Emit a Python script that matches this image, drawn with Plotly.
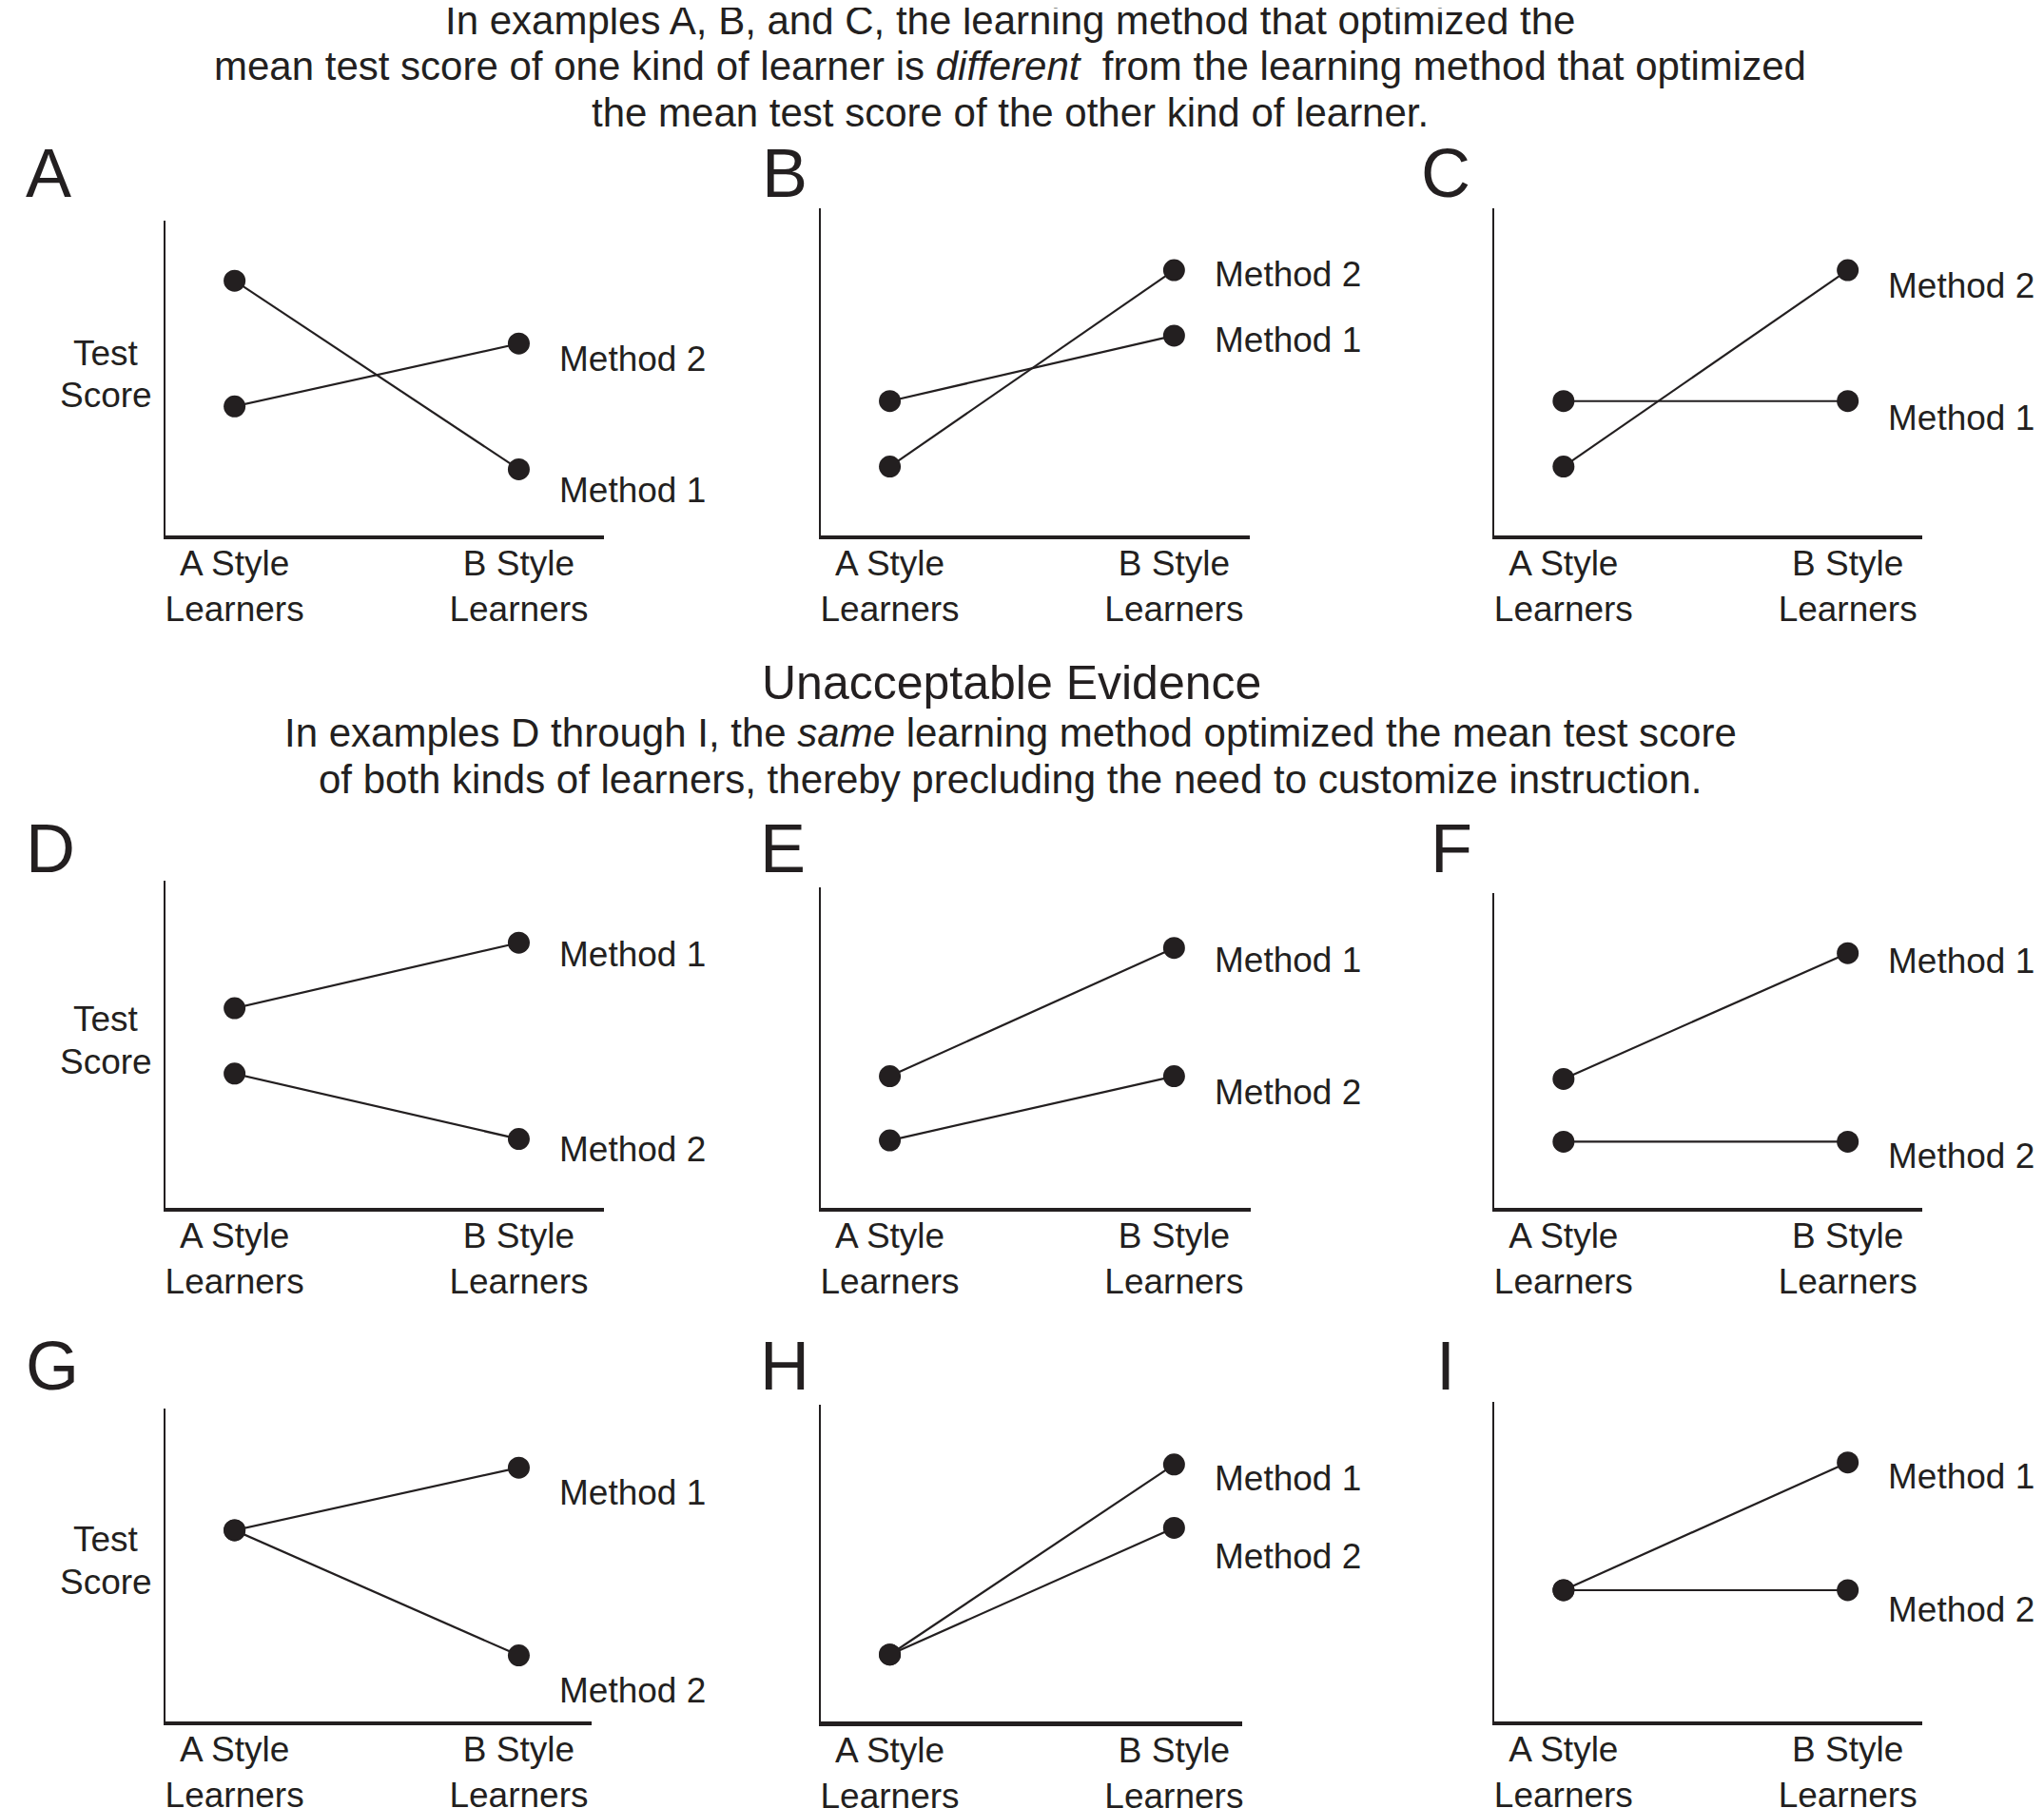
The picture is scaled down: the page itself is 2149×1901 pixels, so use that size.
import plotly.graph_objects as go

INK = '#231f20'
FONT = 'Liberation Sans, Arial, sans-serif'

# size of the reference as it was measured, and of the output page
REF_W, REF_H = 1552, 1387
FIG_W, FIG_H = 2149, 1901
SX, SY = FIG_W / REF_W, FIG_H / REF_H

# data
panel_names = ['A', 'B', 'C', 'D', 'E', 'F', 'G', 'H', 'I']
learner_groups = ['A Style<br>Learners', 'B Style<br>Learners']
method_names = ['Method 1', 'Method 2']
# mean test score (0-10 scale) for [A style, B style] learners
method1_scores = [[8.1, 2.1], [4.1, 6.1], [4.1, 4.1],
                  [6.1, 8.1], [4.1, 8.1], [4.1, 8.1],
                  [6.1, 8.1], [2.1, 8.1], [4.1, 8.1]]
method2_scores = [[4.1, 6.1], [2.1, 8.1], [2.1, 8.1],
                  [4.1, 2.1], [2.1, 4.1], [2.1, 2.1],
                  [6.1, 2.1], [2.1, 6.1], [4.1, 4.1]]

top_lines = ['In examples A, B, and C, the learning method that optimized the',
             'mean test score of one kind of learner is <i>different</i>  from the learning method that optimized',
             'the mean test score of the other kind of learner.']
mid_heading = 'Unacceptable Evidence'
mid_lines = ['In examples D through I, the <i>same</i> learning method optimized the mean test score',
             'of both kinds of learners, thereby precluding the need to customize instruction.']
y_title = ['Test', 'Score']

# layout (measured in reference pixels): left line x, right end x, top y, bottom y
frames = [(120, 453, 165, 408), (618, 944, 155, 408), (1130, 1455, 155, 408),
          (120, 453, 675, 928), (618, 945, 680, 928), (1130, 1455, 685, 928),
          (120, 444, 1083, 1325), (618, 938, 1080, 1325), (1130, 1455, 1078, 1325)]
letter_pos = [(12, 128), (572, 128), (1073, 128),
              (12, 650), (570, 650), (1080, 650),
              (12, 1050), (570, 1050), (1084, 1050)]
# vertical offset of the method labels below their point [Method 1, Method 2]
label_dy = [(16, 12), (3, 3), (13, 12), (9, 8), (9, 12), (6, 11),
            (19, 27), (11, 22), (11, 15)]
A_OFF, UNIT = 52.5, 216.0


def px(x):
    return x / REF_W


def py(y):
    return 1 - y / REF_H


fig = go.Figure()
annotations = []

for i, name in enumerate(panel_names):
    n = '' if i == 0 else str(i + 1)
    vx, hx, ty, by = frames[i]
    r0 = -A_OFF / UNIT
    r1 = (hx - vx - A_OFF) / UNIT
    fig.update_layout(**{
        'xaxis' + n: dict(domain=[px(vx), px(hx)], range=[r0, r1], anchor='y' + n,
                          type='category', showline=True, linecolor=INK,
                          linewidth=5 if name == 'H' else 3.5,
                          showgrid=False, zeroline=False, ticks='',
                          tickfont=dict(family=FONT, size=37, color=INK),
                          ticklabelstandoff=-6, fixedrange=True),
        'yaxis' + n: dict(domain=[py(by), py(ty)], range=[0, 10], anchor='x' + n,
                          showline=True, linecolor=INK, linewidth=2,
                          showgrid=False, zeroline=False, showticklabels=False,
                          ticks='', fixedrange=True),
    })
    for m, scores in enumerate([method1_scores[i], method2_scores[i]]):
        fig.add_trace(go.Scatter(
            x=learner_groups, y=scores, mode='lines+markers',
            xaxis='x' + n, yaxis='y' + n, showlegend=False, cliponaxis=False,
            line=dict(color=INK, width=2.2),
            marker=dict(color=INK, size=23)))
        annotations.append(dict(
            text=method_names[m], xref='x' + n, yref='y' + n, x=1, y=scores[1],
            xanchor='left', yanchor='middle', xshift=29 * SX,
            yshift=-label_dy[i][m] * SY, showarrow=False,
            font=dict(family=FONT, size=37, color=INK)))
    lx, ly = letter_pos[i]
    annotations.append(dict(
        text=name, xref='paper', yref='paper', x=px(lx), y=py(ly),
        xanchor='left', yanchor='middle', showarrow=False,
        font=dict(family=FONT, size=72, color=INK)))
    if vx == 120:
        mid = (ty + by) / 2
        for word, dy in zip(y_title, [-19.5, 13.5]):
            annotations.append(dict(
                text=word, xref='paper', yref='paper', x=px(75), y=py(mid + dy),
                xanchor='center', yanchor='middle', showarrow=False,
                font=dict(family=FONT, size=37, color=INK)))

for text, y in zip(top_lines, [10, 45, 81]):
    annotations.append(dict(text=text, xref='paper', yref='paper', x=px(762), y=py(y),
                            xanchor='center', yanchor='middle', showarrow=False,
                            font=dict(family=FONT, size=42, color=INK)))
annotations.append(dict(text=mid_heading, xref='paper', yref='paper', x=px(763), y=py(522),
                        xanchor='center', yanchor='middle', showarrow=False,
                        font=dict(family=FONT, size=50, color=INK)))
for text, y in zip(mid_lines, [561, 597]):
    annotations.append(dict(text=text, xref='paper', yref='paper', x=px(762), y=py(y),
                            xanchor='center', yanchor='middle', showarrow=False,
                            font=dict(family=FONT, size=42, color=INK)))

fig.update_layout(width=FIG_W, height=FIG_H, margin=dict(l=0, r=0, t=0, b=0),
                  paper_bgcolor='white', plot_bgcolor='white',
                  annotations=annotations)

fig.write_html('out.html')
